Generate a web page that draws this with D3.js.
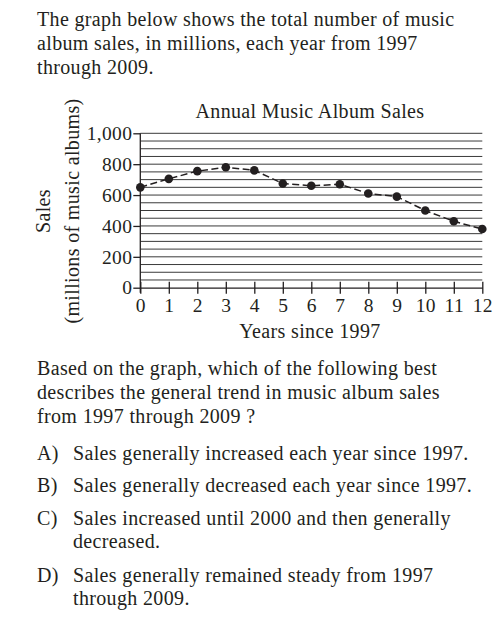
<!DOCTYPE html>
<html>
<head>
<meta charset="utf-8">
<script src="https://cdn.jsdelivr.net/npm/d3@7"></script>
<style>
  body { margin: 0; background: #fff; }
  text { font-family: "Liberation Serif", "Times New Roman", serif; fill: #231f20; letter-spacing: 0.35px; }
</style>
</head>
<body>
<script>
// data
const years = [0, 1, 2, 3, 4, 5, 6, 7, 8, 9, 10, 11, 12];
const sales = [650, 705, 755, 780, 760, 675, 660, 670, 610, 590, 500, 430, 380];
const yTicks = [0, 200, 400, 600, 800, 1000];
const gridStep = 50;

const introLines = [
  "The graph below shows the total number of music",
  "album sales, in millions, each year from 1997",
  "through 2009."
];
const questionLines = [
  "Based on the graph, which of the following best",
  "describes the general trend in music album sales",
  "from 1997 through 2009 ?"
];
const choices = [
  { key: "A)", lines: ["Sales generally increased each year since 1997."] },
  { key: "B)", lines: ["Sales generally decreased each year since 1997."] },
  { key: "C)", lines: ["Sales increased until 2000 and then generally", "decreased."] },
  { key: "D)", lines: ["Sales generally remained steady from 1997", "through 2009."] }
];

const width = 496;
const height = 639;

const svg = d3
  .select("body")
  .append("svg")
  .attr("width", width)
  .attr("height", height);

const fs = 20;
const tickFs = 19.5;

// intro paragraph
svg.append("g")
  .selectAll("text")
  .data(introLines)
  .join("text")
  .attr("x", 37)
  .attr("y", (d, i) => 26 + i * 24)
  .attr("font-size", fs)
  .text((d) => d);

// chart
const x = d3.scaleLinear().domain([0, 12]).range([140.3, 482.3]);
const y = d3.scaleLinear().domain([0, 1000]).range([287.7, 133.3]);

const chart = svg.append("g");

chart.append("text")
  .attr("x", 310)
  .attr("y", 118)
  .attr("text-anchor", "middle")
  .attr("font-size", fs)
  .text("Annual Music Album Sales");

// horizontal grid lines every 50
chart.append("g")
  .attr("stroke", "#3a3a3a")
  .attr("stroke-width", 1)
  .selectAll("line")
  .data(d3.range(gridStep, 1000 + 1, gridStep))
  .join("line")
  .attr("x1", x(0))
  .attr("x2", x(12))
  .attr("y1", (d) => y(d))
  .attr("y2", (d) => y(d));

// y axis
const yAxis = chart.append("g")
  .attr("transform", `translate(${x(0)},0)`)
  .call(d3.axisLeft(y).tickValues(yTicks).tickFormat(d3.format(",")).tickSize(7).tickPadding(1));
yAxis.select(".domain").remove();
yAxis.append("line")
  .attr("y1", y(1000))
  .attr("y2", y(0) + 5)
  .attr("stroke", "#231f20")
  .attr("stroke-width", 1.3);
yAxis.selectAll(".tick line").attr("stroke", "#231f20").attr("stroke-width", 1.3);
yAxis.selectAll(".tick text")
  .attr("font-size", tickFs)
  .attr("font-family", "Liberation Serif, serif")
  .attr("fill", "#231f20");

// x axis: ticks cross the line
const xAxis = chart.append("g")
  .attr("transform", `translate(0,${y(0)})`)
  .call(d3.axisBottom(x).tickValues(years).tickSize(6).tickPadding(4).tickSizeOuter(0));
xAxis.select(".domain").attr("stroke", "#231f20").attr("stroke-width", 1.3);
xAxis.selectAll(".tick line")
  .attr("y1", -6)
  .attr("stroke", "#231f20")
  .attr("stroke-width", 1.3);
xAxis.selectAll(".tick text")
  .attr("font-size", tickFs)
  .attr("font-family", "Liberation Serif, serif")
  .attr("fill", "#231f20");

chart.append("text")
  .attr("x", 310)
  .attr("y", 338)
  .attr("text-anchor", "middle")
  .attr("font-size", fs)
  .text("Years since 1997");

// y axis title, two rotated lines
chart.append("text")
  .attr("transform", "translate(50,211) rotate(-90)")
  .attr("text-anchor", "middle")
  .attr("font-size", fs)
  .text("Sales");
chart.append("text")
  .attr("transform", "translate(79,211) rotate(-90)")
  .attr("text-anchor", "middle")
  .attr("font-size", fs)
  .text("(millions of music albums)");

// dashed line and dots
const line = d3.line()
  .x((d, i) => x(years[i]))
  .y((d) => y(d));

chart.append("path")
  .datum(sales)
  .attr("fill", "none")
  .attr("stroke", "#231f20")
  .attr("stroke-width", 1.5)
  .attr("stroke-dasharray", "7,3.5")
  .attr("d", line);

chart.append("g")
  .selectAll("circle")
  .data(sales)
  .join("circle")
  .attr("cx", (d, i) => x(years[i]))
  .attr("cy", (d) => y(d))
  .attr("r", 4.3)
  .attr("fill", "#231f20");

// question
svg.append("g")
  .selectAll("text")
  .data(questionLines)
  .join("text")
  .attr("x", 37)
  .attr("y", (d, i) => 375 + i * 24)
  .attr("font-size", fs)
  .text((d) => d);

// answer choices
const choiceTop = [460, 492, 525, 582];
const choiceG = svg.append("g")
  .selectAll("g")
  .data(choices)
  .join("g")
  .attr("transform", (d, i) => `translate(0,${choiceTop[i]})`);

choiceG.append("text")
  .attr("x", 37)
  .attr("font-size", fs)
  .text((d) => d.key);

choiceG.selectAll("text.line")
  .data((d) => d.lines)
  .join("text")
  .attr("class", "line")
  .attr("x", 73)
  .attr("y", (d, i) => i * 23)
  .attr("font-size", fs)
  .text((d) => d);
</script>
</body>
</html>
